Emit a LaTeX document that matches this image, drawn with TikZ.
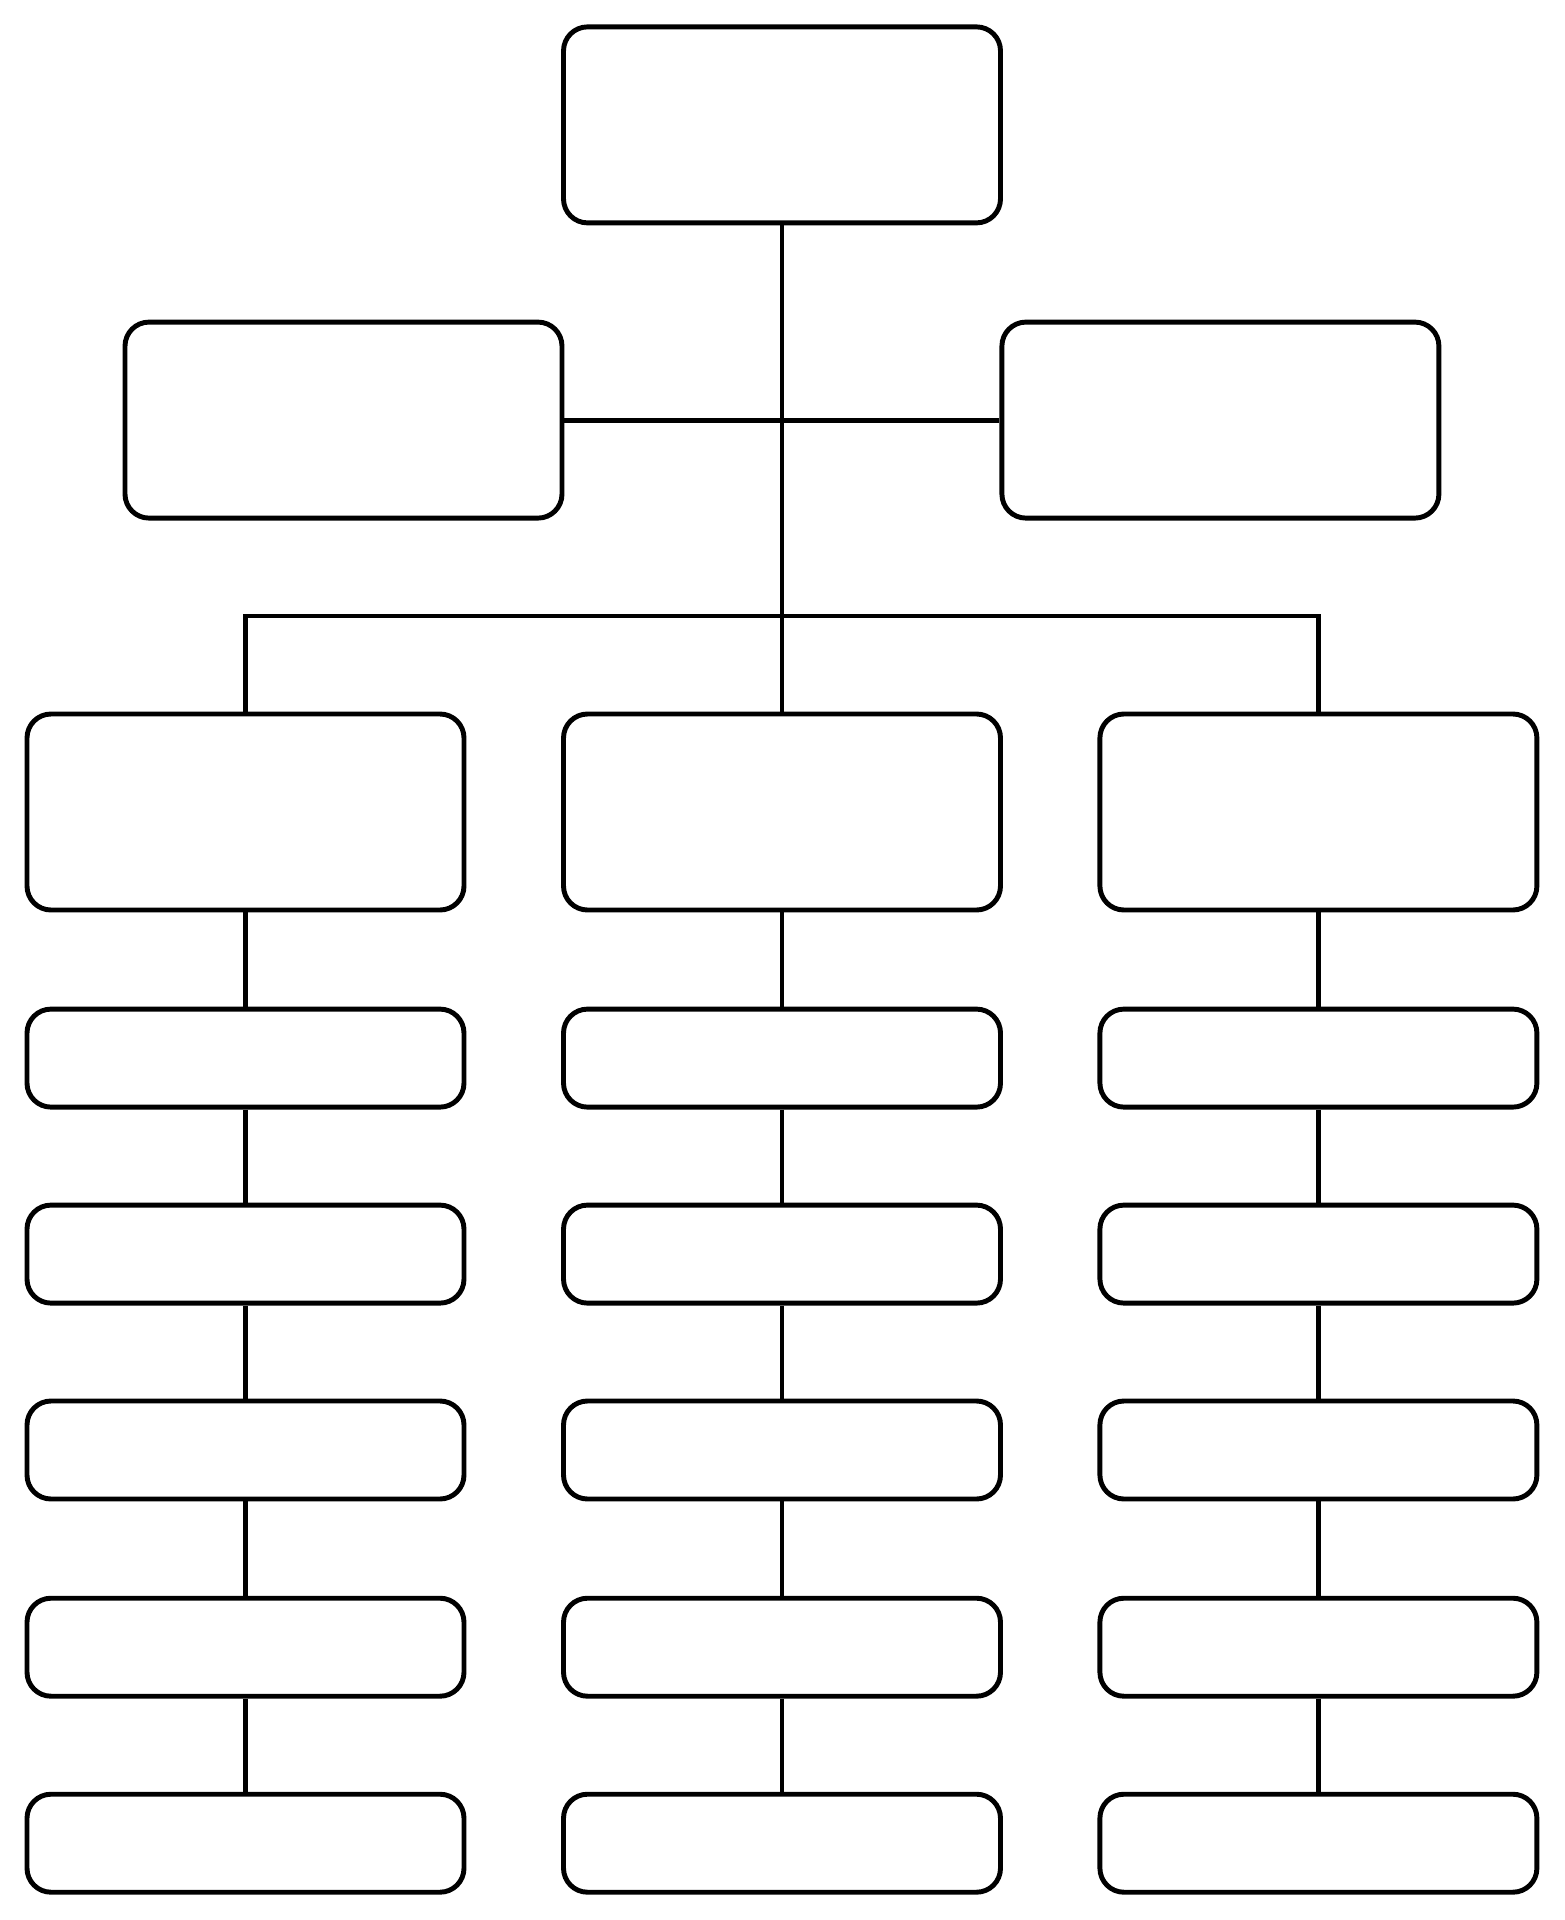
\documentclass[tikz,border=0pt]{standalone}
\usetikzlibrary{positioning}
\tikzset{
  chartbox/.style={draw=black, rounded corners=2.4mm, line width=1.4pt, fill=white, minimum width=4.37cm, inner sep=0pt},
  bigbox/.style={chartbox, minimum height=1.96cm},
  smallbox/.style={chartbox, minimum height=0.98cm},
  link/.style={line width=1.4pt}
}
\begin{document}
\begin{tikzpicture}
	\useasboundingbox (0,0) rectangle (15.64,-19.20);

	\node[bigbox] (top) at (7.82,-1.249) {};
	\node[bigbox] (leftmid) at (3.435,-4.201) {};
	\node[bigbox] (rightmid) at (12.204,-4.201) {};

	\coordinate (busleft) at (2.455,-6.16);
	\coordinate (busright) at (13.184,-6.16);

	\foreach \col/\x in {A/2.455, B/7.82, C/13.184} {
		\node[bigbox] (col\col) at (\x,-8.12) {};
		\foreach \i/\y in {1/-10.581, 2/-12.541, 3/-14.50, 4/-16.472, 5/-18.432}
			\node[smallbox] (\col\i) at (\x,\y) {};
		\draw[link] (col\col.south) -- (\col1.north);
		\foreach \i/\j in {1/2, 2/3, 3/4, 4/5}
			\draw[link] (\col\i.south) -- (\col\j.north);
	}

	\draw[link] (top.south) -- (colB.north);
	\draw[link] (leftmid.east) -- (rightmid.west);
	\draw[link] (colA.north) -- (busleft) -- (busright) -- (colC.north);

\end{tikzpicture}
\end{document}
